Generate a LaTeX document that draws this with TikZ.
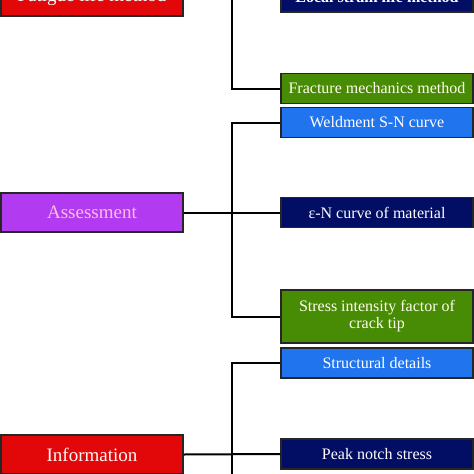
\documentclass[tikz,border=0pt]{standalone}
\usepackage{fontspec}
\setmainfont{Liberation Serif}
\definecolor{cred}{RGB}{226,8,10}
\definecolor{cnavy}{RGB}{2,14,100}
\definecolor{cgreen}{RGB}{72,140,6}
\definecolor{cblue}{RGB}{32,116,238}
\definecolor{cpurple}{RGB}{178,58,240}
\begin{document}
\begin{tikzpicture}[x=1pt,y=-1pt,
  box/.style={draw=black!85,line width=1.3pt,inner sep=0pt,align=center},
  lbox/.style={box,minimum width=182pt,minimum height=39pt,font=\fontsize{19}{21}\selectfont},
  rbox/.style={box,minimum width=192pt,minimum height=30pt,font=\fontsize{16}{17}\selectfont},
  conn/.style={draw=black,line width=2pt}]
\useasboundingbox (0,0) rectangle (474,474);
\begin{scope}
\clip (0,0) rectangle (474,474);
% Fatigue life method group
\node[lbox,fill=cred,text=white] (fat) at (92,-3.5) {Fatigue life method};
\node[rbox,fill=cnavy,text=white,font=\bfseries\fontsize{16}{17}\selectfont] (ls) at (377,-3) {Local strain life method};
\node[rbox,fill=cgreen,text=white!92!yellow] (fm) at (377,88.5) {Fracture mechanics method};
\coordinate (t1) at (232,-3.5);
\draw[conn] (fat.east) -- (t1) -- (ls.west);
\draw[conn] (t1) |- (fm.west);
% Assessment group
\node[lbox,fill=cpurple,text=magenta!25] (ass) at (92,212.5) {Assessment};
\node[rbox,fill=cblue,text=white] (ws) at (377,122.5) {Weldment S-N curve};
\node[rbox,fill=cnavy,text=white] (en) at (377,212.5) {ε-N curve of material};
\node[rbox,fill=cgreen,text=white!92!yellow,minimum height=53pt] (sif) at (377,316.5) {Stress intensity factor of\\crack tip};
\coordinate (t2) at (232,212.5);
\draw[conn] (ass.east) -- (en.west);
\draw[conn] (t2) |- (ws.west);
\draw[conn] (t2) |- (sif.west);
% Information group
\node[lbox,fill=cred,text=white!90!pink] (inf) at (92,454.5) {Information};
\node[rbox,fill=cblue,text=white] (sd) at (377,363) {Structural details};
\node[rbox,fill=cnavy,text=white] (pn) at (377,454) {Peak notch stress};
\coordinate (t3) at (232,454);
\coordinate (t3b) at (232,490);
\draw[conn] (inf.east) -- (pn.west);
\draw[conn] (t3b) -- (t3) |- (sd.west);
\end{scope}
\end{tikzpicture}
\end{document}
